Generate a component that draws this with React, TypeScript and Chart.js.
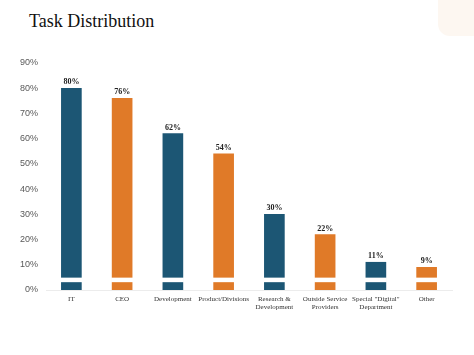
import React, { useEffect, useRef } from "react";
import { Chart, registerables } from "chart.js";

Chart.register(...registerables);

const categories: (string | string[])[] = [
  "IT",
  "CEO",
  "Development",
  "Product/Divisions",
  ["Research &", "Development"],
  ["Outside Service", "Providers"],
  ['Special "Digital"', "Department"],
  "Other",
];
const values = [80, 76, 62, 54, 30, 22, 11, 9];
const barColors = ["#1c5674", "#e07a28", "#1c5674", "#e07a28", "#1c5674", "#e07a28", "#1c5674", "#e07a28"];
const yTicks = [0, 10, 20, 30, 40, 50, 60, 70, 80, 90];
const breakLow = 3.1;
const breakHigh = 4.9;

const breakPlugin = {
  id: "breakBand",
  afterDatasetsDraw(chart: any) {
    const { ctx } = chart;
    const y = chart.scales.y;
    const meta = chart.getDatasetMeta(0);
    const top = y.getPixelForValue(breakHigh);
    const bot = y.getPixelForValue(breakLow);
    ctx.save();
    ctx.fillStyle = "#ffffff";
    meta.data.forEach((bar: any) => {
      const w = bar.width;
      ctx.fillRect(bar.x - w / 2 - 1, top, w + 2, bot - top);
    });
    ctx.restore();
  },
};

const labelPlugin = {
  id: "valueLabels",
  afterDatasetsDraw(chart: any) {
    const { ctx } = chart;
    const meta = chart.getDatasetMeta(0);
    ctx.save();
    ctx.font = "bold 8px 'Liberation Serif', serif";
    ctx.fillStyle = "#222222";
    ctx.textAlign = "center";
    ctx.textBaseline = "alphabetic";
    meta.data.forEach((bar: any, i: number) => {
      ctx.fillText(values[i] + "%", bar.x, bar.y - 4);
    });
    ctx.restore();
  },
};

export default function App() {
  const ref = useRef<HTMLCanvasElement | null>(null);
  useEffect(() => {
    document.body.style.margin = "0";
    if (!ref.current) return;
    const chart = new Chart(ref.current, {
      type: "bar",
      data: {
        labels: categories,
        datasets: [
          {
            data: values,
            backgroundColor: barColors,
            barThickness: 20,
          },
        ],
      },
      options: {
        animation: false,
        responsive: false,
        maintainAspectRatio: false,
        layout: { padding: { left: 0, right: 22, top: 63, bottom: 0 } },
        plugins: {
          legend: { display: false },
          tooltip: { enabled: false },
          title: { display: false },
        },
        scales: {
          x: {
            grid: { display: false },
            border: { display: true, color: "#ececec" },
            ticks: {
              color: "#333333",
              font: { family: "'Liberation Serif', serif", size: 7, lineHeight: 1.15 },
              maxRotation: 0,
              autoSkip: false,
              padding: -3,
            },
            afterFit(scale: any) {
              scale.height = 65;
            },
          },
          y: {
            min: 0,
            max: 90,
            grid: { display: false },
            border: { display: false },
            afterBuildTicks(scale: any) {
              scale.ticks = yTicks.map((v) => ({ value: v }));
            },
            ticks: {
              color: "#595959",
              font: { family: "'Liberation Sans', Arial, sans-serif", size: 9 },
              callback: (v: any) => v + "%",
              padding: 0,
            },
            afterFit(scale: any) {
              scale.width = 46;
            },
          },
        },
      },
      plugins: [breakPlugin, labelPlugin],
    });
    return () => chart.destroy();
  }, []);
  return (
    <div style={{ position: "relative", width: 474, height: 355, background: "#ffffff" }}>
      <div
        style={{
          position: "absolute",
          right: 0,
          top: 0,
          width: 36,
          height: 36,
          background: "#fdf7f1",
          borderBottomLeftRadius: 12,
        }}
      />
      <div
        style={{
          position: "absolute",
          left: 29,
          top: 9,
          fontFamily: "'Liberation Serif', 'Times New Roman', serif",
          fontSize: 18,
          color: "#111111",
          lineHeight: "24px",
        }}
      >
        Task Distribution
      </div>
      <canvas ref={ref} width={474} height={355} style={{ position: "absolute", left: 0, top: 0 }} />
    </div>
  );
}
